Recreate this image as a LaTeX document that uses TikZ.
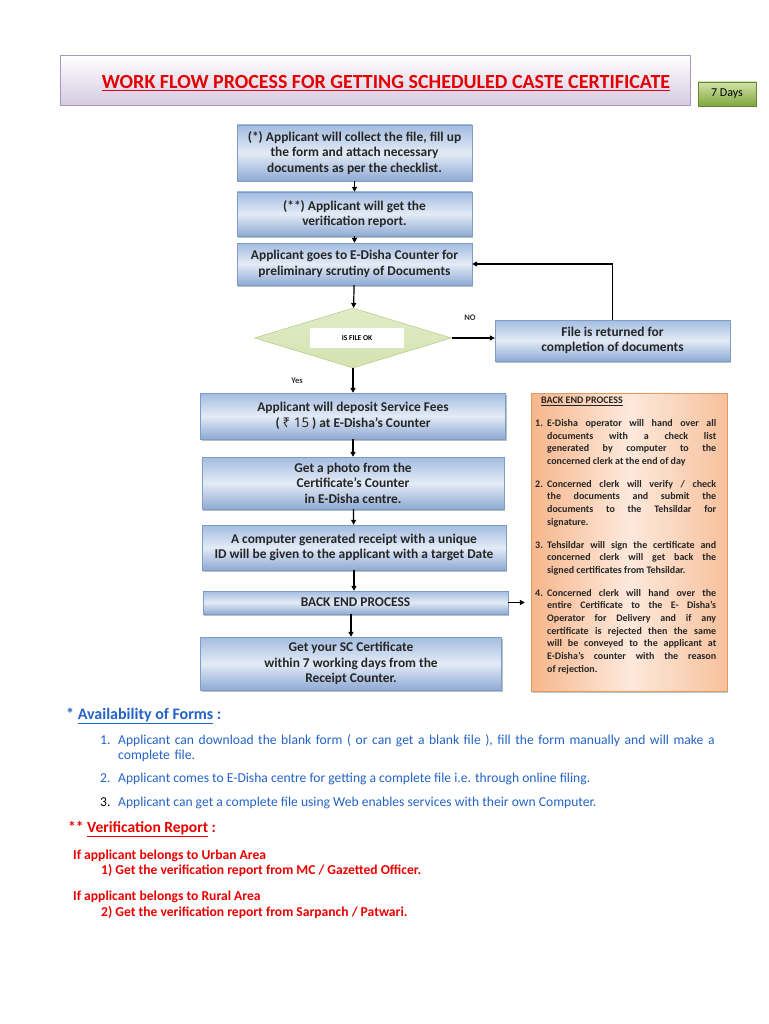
\documentclass[tikz,border=0pt]{standalone}
\usepackage{fontspec}
\setmainfont{Carlito}
\newfontfamily\rupeefont{Noto Sans}
\usepackage[svgnames]{xcolor}
\usetikzlibrary{shapes.geometric,shadows,arrows.meta}
\definecolor{stageTop}{HTML}{A3BCE0}
\definecolor{stageMiddle}{HTML}{E3EBF6}
\definecolor{stageBottom}{HTML}{8FAAD4}
\definecolor{stageBorder}{HTML}{7F9CC8}
\definecolor{decisionFill}{HTML}{D4E3B0}
\definecolor{decisionBorder}{HTML}{A9C47A}
\definecolor{peachDeep}{HTML}{F6B68B}
\definecolor{peachPale}{HTML}{FDE9DC}
\definecolor{peachBorder}{HTML}{E39A62}
\definecolor{lilacTop}{HTML}{FFFFFF}
\definecolor{lilacBottom}{HTML}{D5CBE2}
\definecolor{lilacBorder}{HTML}{A898C0}
\definecolor{daysTop}{HTML}{D3E3A8}
\definecolor{daysBottom}{HTML}{7FA83E}
\colorlet{titleRed}{Red!90!black}
\definecolor{noteBlue}{HTML}{2463C8}
\colorlet{noteRed}{Red!92!black}

\begin{document}
\begin{tikzpicture}[
  x=1pt,
  y=-1pt,
  stage/.style={
    draw=stageBorder,
    top color=stageTop,
    bottom color=stageBottom,
    middle color=stageMiddle,
    drop shadow={shadow xshift=1pt,shadow yshift=-1.5pt,fill=DarkSlateGray!70},
    font=\bfseries\fontsize{13.4}{15.5}\selectfont,
    text=black!85,
    align=center,
    inner sep=0pt,
  },
  decision/.style={
    diamond,
    draw=decisionBorder,
    top color=decisionFill!70,
    bottom color=decisionFill,
    inner sep=0pt,
    minimum width=197,
    minimum height=60,
  },
  flow/.style={
    -{Triangle[length=5pt,width=5pt]},
    line width=1.2pt,
  },
  small label/.style={
    font=\bfseries\fontsize{8.5}{10}\selectfont,
    text=black!80,
  },
  remark/.style={
    inner sep=0pt,
    anchor=west,
  },
]
\useasboundingbox[fill=white] (0,0) rectangle (768,1024);

% heading
\node[draw=lilacBorder,top color=lilacTop,bottom color=lilacBottom,
  drop shadow={shadow xshift=1pt,shadow yshift=-1.5pt,fill=DarkSlateGray!60},
  minimum width=630,minimum height=50] (headbox) at (375,80) {};
\node[font=\bfseries\fontsize{20}{24}\selectfont,text=titleRed] (head) at (386,83)
  {\underline{WORK FLOW PROCESS FOR GETTING SCHEDULED CASTE CERTIFICATE}};
\node[draw=daysBottom!80!black,top color=daysTop,bottom color=daysBottom,
  drop shadow={shadow xshift=1pt,shadow yshift=-1pt,fill=DarkSlateGray!60},
  minimum width=58,minimum height=24,font=\fontsize{12}{14}\selectfont] (days) at (727,94) {7 Days};

% main column
\node[stage,minimum width=235,minimum height=56] (collect) at (354.5,153)
  {(*) Applicant will collect the file, fill up\\the form and attach necessary\\documents as per the checklist.};
\node[stage,minimum width=235,minimum height=44] (report) at (354.5,214)
  {(**) Applicant will get the\\verification report.};
\node[stage,minimum width=235,minimum height=42] (counter) at (354.5,264)
  {Applicant goes to E-Disha Counter for\\preliminary scrutiny of Documents};
\node[decision] (check) at (353,338) {};
\node[fill=white,minimum width=94,minimum height=20,inner sep=0pt,
  font=\bfseries\fontsize{7.5}{8}\selectfont] (isok) at (357,338) {IS FILE OK};
\node[stage,minimum width=235,minimum height=41] (returned) at (612.5,340.5)
  {File is returned for\\completion of documents};
\node[stage,minimum width=305,minimum height=46] (fees) at (353,416)
  {Applicant will deposit Service Fees\\( {\rupeefont\mdseries ₹ 15} ) at E-Disha’s Counter};
\node[stage,minimum width=302,minimum height=52] (photo) at (353,483)
  {Get a photo from the\\Certificate’s Counter\\in E-Disha centre.};
\node[stage,minimum width=304,minimum height=45] (receipt) at (354,547.5)
  {A computer generated receipt with a unique\\ID will be given to the applicant with a target Date};
\node[stage,minimum width=305,minimum height=23] (backend) at (355.5,602.5)
  {BACK END PROCESS};
\node[stage,minimum width=301,minimum height=53] (sc) at (351,663.5)
  {Get your SC Certificate\\within 7 working days from the\\Receipt Counter.};
\node[small label] (no) at (470,318) {NO};
\node[small label] (yes) at (297,381) {Yes};

% back end notes
\node[draw=peachBorder,left color=peachDeep,right color=peachDeep!85,middle color=peachPale,
  drop shadow={shadow xshift=1pt,shadow yshift=-1.5pt,fill=DarkSlateGray!60},
  minimum width=196,minimum height=298] (backbox) at (629,542) {};
\node[anchor=north west,inner sep=0pt,text width=181,align=justify,
  font=\bfseries\fontsize{10}{12.7}\selectfont,text=black!85] (backtext) at (535,397) {%
  \setlength{\parskip}{10pt}%
  \hspace*{6pt}\underline{BACK END PROCESS}\par
  \hangindent=12pt\hangafter=1\makebox[12pt][l]{1.}E-Disha operator will hand over all\linebreak
  documents with a check list\linebreak generated by computer to the\linebreak
  concerned clerk at the end of day\par
  \hangindent=12pt\hangafter=1\makebox[12pt][l]{2.}Concerned clerk will verify / check\linebreak
  the documents and submit the\linebreak documents to the Tehsildar for\linebreak signature.\par
  \hangindent=12pt\hangafter=1\makebox[12pt][l]{3.}Tehsildar will sign the certificate and\linebreak
  concerned clerk will get back the\linebreak signed certificates from Tehsildar.\par
  \hangindent=12pt\hangafter=1\makebox[12pt][l]{4.}Concerned clerk will hand over the\linebreak
  entire Certificate to the E- Disha’s\linebreak Operator for Delivery and if any\linebreak
  certificate is rejected then the same\linebreak will be conveyed to the applicant at\linebreak
  E-Disha’s counter with the reason\linebreak of rejection.\par};

% connectors
\draw[flow] (collect) -- (report);
\draw[flow] (report) -- (counter);
\draw[flow] (counter) -- (check);
\draw[flow] (check.east) -- (check.east -| returned.west);
\draw[flow] (returned.north) |- (counter.east);
\draw[flow] (check) -- (fees);
\draw[flow] (fees) -- (photo);
\draw[flow] (photo) -- (receipt);
\draw[flow] (receipt) -- (receipt.south |- backend.north);
\draw[flow] (backend.south -| sc.north) -- (sc);
\draw[flow,shorten >=6pt] (backend.east) -- (backend.east -| backbox.west);

% notes under the chart
\begin{scope}[text=noteBlue,font=\fontsize{13.6}{15.5}\selectfont]
\node[remark,font=\bfseries\fontsize{16}{18}\selectfont] (forms) at (66,716)
  {* \underline{Availability of Forms} :};
\node[remark,anchor=north west,text width=618] (form1) at (100,734)
  {\hangindent=18pt\hangafter=1\makebox[18pt][l]{1.}Applicant can download the blank form ( or can get a blank file ), fill the form manually and will make a\linebreak complete file.\par};
\node[remark] (form2) at (100,779)
  {\makebox[18pt][l]{2.}Applicant comes to E-Disha centre for getting a complete file i.e. through online filing.};
\node[remark] (form3) at (100,803)
  {\makebox[18pt][l]{\color{black}3.}Applicant can get a complete file using Web enables services with their own Computer.};
\end{scope}
\begin{scope}[text=noteRed,font=\bfseries\fontsize{13.6}{16}\selectfont]
\node[remark,font=\bfseries\fontsize{15.5}{18}\selectfont] (verify) at (68,829)
  {** \underline{Verification Report} :};
\node[remark] (urban) at (73,856) {If applicant belongs to Urban Area};
\node[remark] (urban1) at (101,871) {1) Get the verification report from MC / Gazetted Officer.};
\node[remark] (rural) at (73,897) {If applicant belongs to Rural Area};
\node[remark] (rural1) at (101,913) {2) Get the verification report from Sarpanch / Patwari.};
\end{scope}
\end{tikzpicture}
\end{document}
